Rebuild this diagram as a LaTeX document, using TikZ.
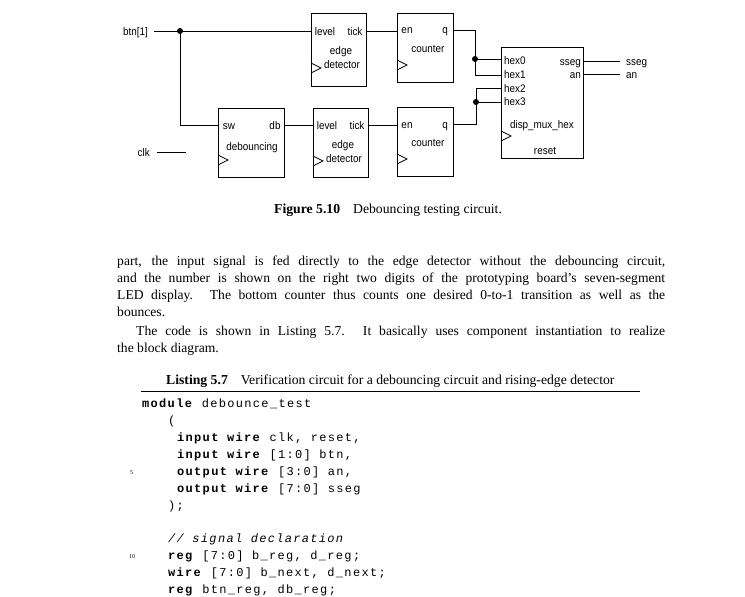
\documentclass[tikz,border=0pt]{standalone}
\usepackage{fontspec}
\setmainfont{Liberation Serif}
\newfontfamily\diag[FakeStretch=0.9]{Liberation Sans}
\newfontfamily\code[LetterSpace=11]{Liberation Mono}
\tikzset{
  x=1pt,y=-1pt,
  blockbox/.style={draw,line width=0.9pt,anchor=north west,inner sep=0,outer sep=0},
  wire/.style={line width=0.9pt},
  dotmark/.style={circle,fill=black,draw=none,minimum size=6pt,inner sep=0},
  clockmark/.style={line width=0.7pt},
  lbl/.style={font=\diag\fontsize{11}{13}\selectfont,inner sep=0,anchor=base},
  bodyline/.style={font=\fontsize{13.6}{16}\selectfont,inner sep=0,anchor=base west},
  codeline/.style={font=\code\fontsize{12}{14}\selectfont,inner sep=0,anchor=base west},
  capt/.style={font=\fontsize{13.7}{16}\selectfont,inner sep=0,anchor=base west},
}
\newcommand{\clockat}[2]{\draw[clockmark] (#1,#2) -- (#1+10,#2+5) -- (#1,#2+10);}
\begin{document}
\begin{tikzpicture}
\useasboundingbox (0,0) rectangle (745,597);
\fill[white] (0,0) rectangle (745,597);
% blocks
\node[blockbox,minimum width=55pt,minimum height=73pt] (edgeA) at (311,13) {};
\node[blockbox,minimum width=56pt,minimum height=69pt] (cntA) at (397,13) {};
\node[blockbox,minimum width=66pt,minimum height=69pt] (deb) at (218,108) {};
\node[blockbox,minimum width=55pt,minimum height=69pt] (edgeB) at (313,108) {};
\node[blockbox,minimum width=56pt,minimum height=69pt] (cntB) at (397,107) {};
\node[blockbox,minimum width=82pt,minimum height=111pt] (mux) at (501,47) {};
% clock marks
\clockat{311}{63}\clockat{397}{60}\clockat{218}{155}\clockat{313}{156}\clockat{397}{154}\clockat{501}{131}
% port labels
\node[lbl] at (325,35) {level};
\node[lbl] at (355,35) {tick};
\node[lbl] at (341,54) {edge};
\node[lbl] at (342,68) {detector};
\node[lbl] at (407,34) {en};
\node[lbl] at (445,34) {q};
\node[lbl] at (428,52) {counter};
\node[lbl] at (229,129) {sw};
\node[lbl] at (275,129) {db};
\node[lbl] at (252,150) {debouncing};
\node[lbl] at (327,129) {level};
\node[lbl] at (357,129) {tick};
\node[lbl] at (343,148) {edge};
\node[lbl] at (344,162) {detector};
\node[lbl] at (407,128) {en};
\node[lbl] at (445,128) {q};
\node[lbl] at (428,146) {counter};
\node[lbl,anchor=base west] at (504,64) {hex0};
\node[lbl,anchor=base west] at (504,78) {hex1};
\node[lbl,anchor=base west] at (504,92) {hex2};
\node[lbl,anchor=base west] at (504,105) {hex3};
\node[lbl,anchor=base east] at (581,65) {sseg};
\node[lbl,anchor=base east] at (581,78) {an};
\node[lbl] at (542,128) {disp\_mux\_hex};
\node[lbl] at (545,154) {reset};
% free signals
\node[lbl,anchor=base east] (btn) at (148,35) {btn[1]};
\node[lbl,anchor=base east] (clk) at (150,156) {clk};
\node[lbl,anchor=base west] (ssegout) at (626,65) {sseg};
\node[lbl,anchor=base west] (anout) at (626,78) {an};
% ports
\coordinate (btnS) at (154,31);
\coordinate (clkS) at (157,152);
\coordinate (clkE) at (186,152);
\coordinate (edgeAin) at (edgeA.west |- btnS);
\coordinate (tickA) at (366,31);
\coordinate (enA) at (397,31);
\coordinate (tapA) at (180,31);
\coordinate (debIn) at (218,125);
\coordinate (debOut) at (284,125);
\coordinate (edgeBin) at (313,125);
\coordinate (tickB) at (368,125);
\coordinate (enB) at (397,125);
\coordinate (qA) at (453,30);
\coordinate (qB) at (453,124);
\coordinate (hexZero) at (501,59);
\coordinate (hexOne) at (501,75);
\coordinate (hexTwo) at (501,88);
\coordinate (hexThree) at (501,102);
\coordinate (ssegP) at (583,61);
\coordinate (anP) at (583,74);
\coordinate (ssegE) at (620,61);
\coordinate (anE) at (620,74);
% wires
\draw[wire] (btnS) -- (edgeAin);
\draw[wire] (tapA) -- (180,125) -- (debIn);
\draw[wire] (clkS) -- (clkE);
\draw[wire] (tickA) -- (enA);
\draw[wire] (debOut) -- (edgeBin);
\draw[wire] (tickB) -- (enB);
\draw[wire] (qA) -- (475,30) -- (475,75) -- (hexOne);
\draw[wire] (475,59) -- (hexZero);
\draw[wire] (qB) -- (476,124) -- (476,88) -- (hexTwo);
\draw[wire] (476,102) -- (hexThree);
\draw[wire] (ssegP) -- (ssegE);
\draw[wire] (anP) -- (anE);
\node[dotmark] at (tapA) {};
\node[dotmark] at (475,59) {};
\node[dotmark] at (476,102) {};
% caption
\node[capt] at (274,213) {\textbf{Figure 5.10}\hspace{13pt}Debouncing testing circuit.};
% body
\node[bodyline] at (117,265) {\makebox[548pt][s]{part, the input signal is fed directly to the edge detector without the debouncing circuit,}};
\node[bodyline] at (117,282) {\makebox[548pt][s]{and the number is shown on the right two digits of the prototyping board's seven-segment}};
\node[bodyline] at (117,299) {\makebox[548pt][s]{LED display. The bottom counter thus counts one desired 0-to-1 transition as well as the}};
\node[bodyline] at (117,316) {bounces.};
\node[bodyline] at (136,335) {\makebox[529pt][s]{The code is shown in Listing 5.7. It basically uses component instantiation to realize}};
\node[bodyline] at (117,352) {the block diagram.};
% listing
\node[capt] at (166,384) {\textbf{Listing 5.7}\hspace{13pt}Verification circuit for a debouncing circuit and rising-edge detector};
\draw[line width=0.7pt] (141,391) -- (640,391);
\node[codeline] at (142,407) {\textbf{module} debounce\_test};
\node[codeline] at (168,424) {(};
\node[codeline] at (177,441) {\textbf{input wire} clk, reset,};
\node[codeline] at (177,458) {\textbf{input wire} [1:0] btn,};
\node[codeline] at (177,475) {\textbf{output wire} [3:0] an,};
\node[codeline] at (177,492) {\textbf{output wire} [7:0] sseg};
\node[codeline] at (168,509) {);};
\node[codeline] at (168,542) {\textit{// signal declaration}};
\node[codeline] at (168,559) {\textbf{reg} [7:0]  b\_reg, d\_reg;};
\node[codeline] at (168,576) {\textbf{wire} [7:0] b\_next, d\_next;};
\node[codeline] at (168,593) {\textbf{reg}  btn\_reg, db\_reg;};
\node[font=\fontsize{6}{7}\selectfont,inner sep=0,anchor=base west] at (130,474) {5};
\node[font=\fontsize{6}{7}\selectfont,inner sep=0,anchor=base west] at (129,558) {10};
\end{tikzpicture}
\end{document}
